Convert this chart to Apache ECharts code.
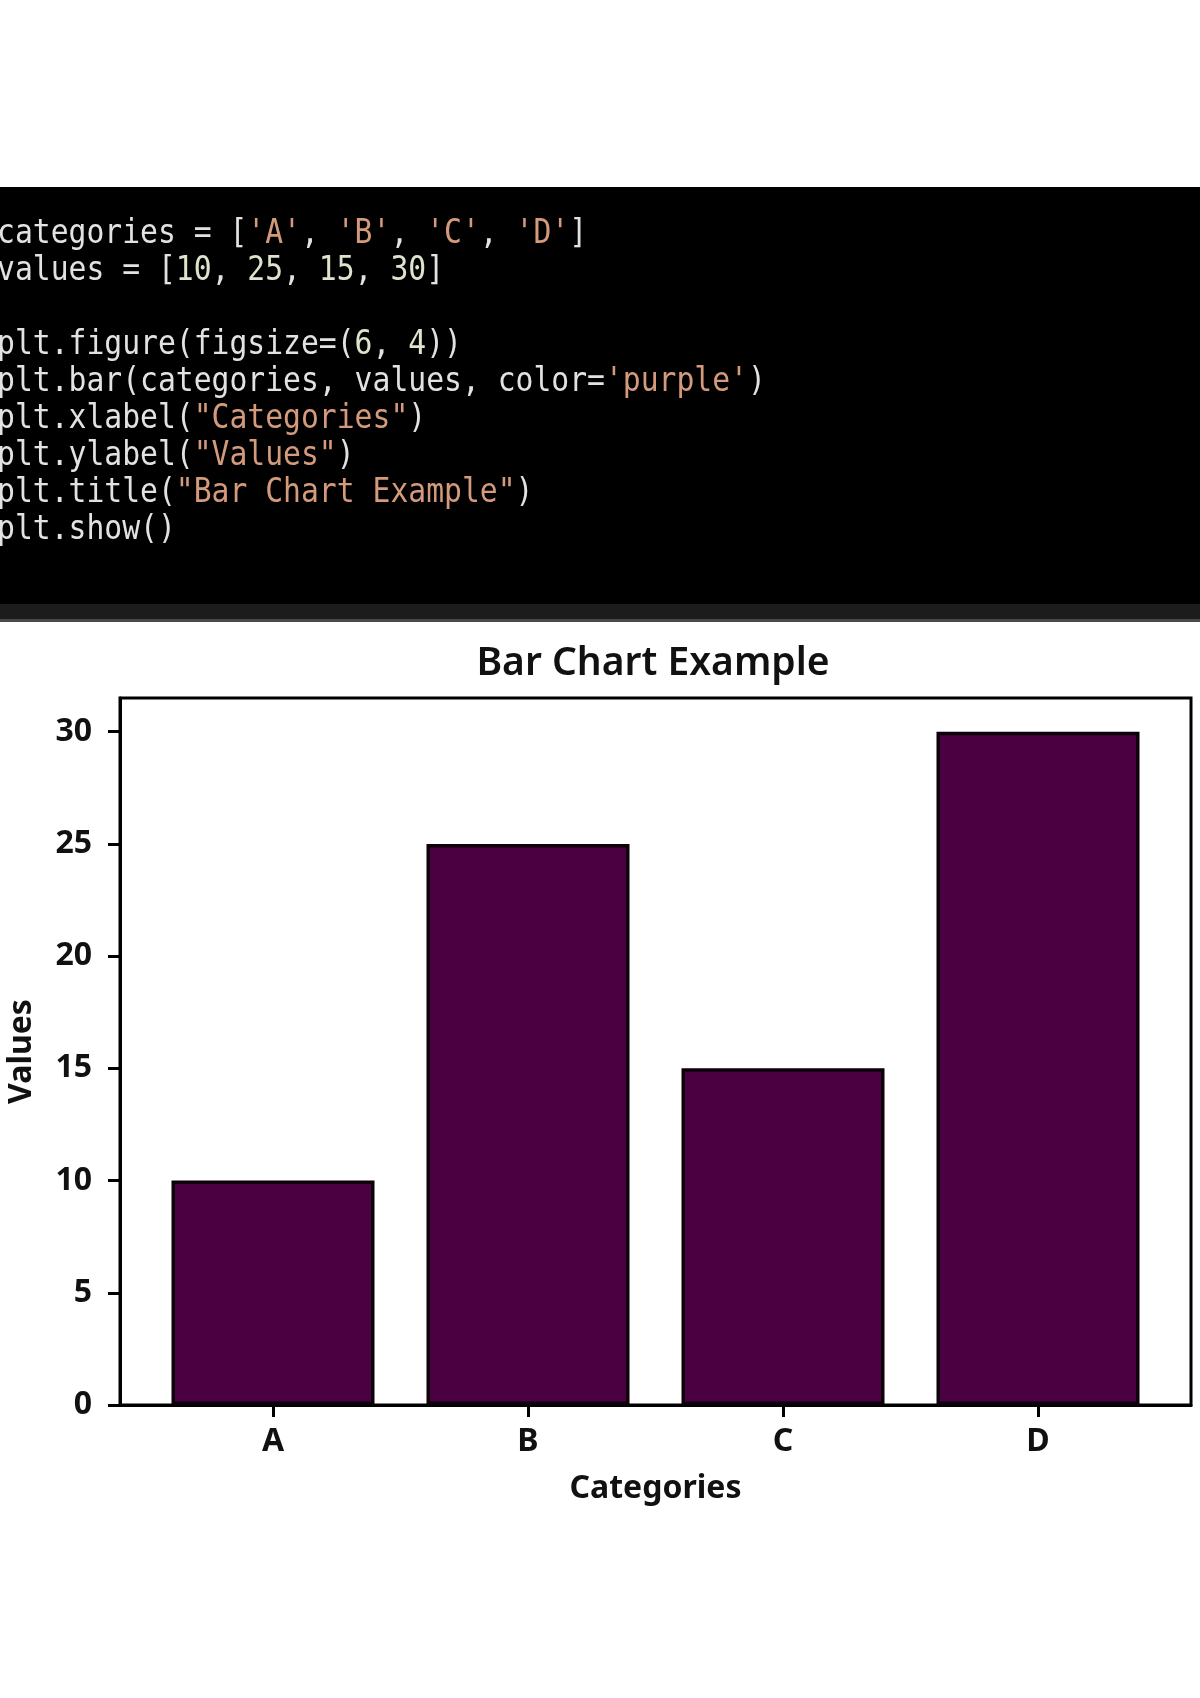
<!DOCTYPE html>
<html>
<head>
<meta charset="utf-8">
<script src="https://cdn.jsdelivr.net/npm/echarts@6/dist/echarts.min.js"></script>
<style>
  html, body { margin: 0; padding: 0; background: #fff; }
  #chart { width: 1200px; height: 1698px; }
</style>
</head>
<body>
<div id="chart"></div>
<script>
  const categories = ['A', 'B', 'C', 'D']
  const values = [10, 25, 15, 30]
  const xTicks = [0, 1, 2, 3]
  const yTicks = [0, 5, 10, 15, 20, 25, 30]
  const codeLines = [
    "categories = ['A', 'B', 'C', 'D']",
    'values = [10, 25, 15, 30]',
    '',
    'plt.figure(figsize=(6, 4))',
    "plt.bar(categories, values, color='purple')",
    'plt.xlabel("Categories")',
    'plt.ylabel("Values")',
    'plt.title("Bar Chart Example")',
    'plt.show()'
  ]

  const mono = 'DejaVu Sans Mono'
  const sans = 'Noto Sans'

  // turn a code line into rich text: strings orange, numbers pale green
  function colorize(line) {
    return line.split(/('[^']*'|"[^"]*")/).map(function (part) {
      if (!part) return ''
      if (part[0] === "'" || part[0] === '"') return '{s|' + part + '}'
      return part.replace(/\b\d+\b/g, function (n) { return '{n|' + n + '}' })
    }).join('')
  }

  const codeText = codeLines.map(function (line, i) {
    return {
      type: 'text',
      x: -3,
      y: 234 + i * 37,
      scaleX: 0.9,
      z: 5,
      style: {
        text: colorize(line),
        fill: '#e2e2e2',
        fontFamily: mono,
        fontSize: 33,
        verticalAlign: 'middle',
        rich: {
          s: { fill: '#d49a7c', fontFamily: mono, fontSize: 33 },
          n: { fill: '#dce4cc', fontFamily: mono, fontSize: 33 }
        }
      }
    }
  })

  const chart = echarts.init(document.getElementById('chart'))
  chart.setOption({
    animation: false,
    backgroundColor: '#fff',
    title: {
      text: 'Bar Chart Example',
      left: 648,
      top: 639,
      textAlign: 'center',
      textStyle: { fontFamily: sans, fontSize: 39, fontWeight: 600, color: '#111' }
    },
    grid: {
      left: 120,
      right: 9,
      top: 698,
      bottom: 293,
      show: true,
      borderColor: '#000',
      borderWidth: 3,
      outerBoundsMode: 'none'
    },
    xAxis: {
      type: 'value',
      min: -0.6,
      max: 3.6,
      name: 'Categories',
      nameLocation: 'middle',
      nameGap: 68,
      nameTextStyle: { fontFamily: sans, fontSize: 32, fontWeight: 'bold', color: '#111' },
      splitLine: { show: false },
      axisLine: { onZero: false, lineStyle: { color: '#000', width: 3 } },
      axisTick: { customValues: xTicks, length: 12, lineStyle: { color: '#000', width: 3 } },
      axisLabel: {
        customValues: xTicks,
        formatter: function (v) { return categories[v] },
        margin: 21,
        fontFamily: sans,
        fontSize: 32,
        fontWeight: 'bold',
        color: '#111'
      }
    },
    yAxis: {
      type: 'value',
      min: 0,
      max: 31.5,
      name: 'Values',
      nameLocation: 'middle',
      nameGap: 82,
      nameTextStyle: { fontFamily: sans, fontSize: 32, fontWeight: 'bold', color: '#111' },
      splitLine: { show: false },
      axisLine: { show: true, onZero: false, lineStyle: { color: '#000', width: 3 } },
      axisTick: { show: true, customValues: yTicks, length: 12, lineStyle: { color: '#000', width: 3 } },
      axisLabel: {
        customValues: yTicks,
        margin: 28,
        fontFamily: sans,
        fontSize: 32,
        fontWeight: 'bold',
        color: '#111'
      }
    },
    series: [
      {
        type: 'bar',
        data: values.map(function (v, i) { return [i, v] }),
        barWidth: 203,
        itemStyle: { color: '#4b0041', borderColor: '#0d000b', borderWidth: 3.5 }
      }
    ],
    graphic: [
      // code screenshot panel above the chart
      { type: 'rect', shape: { x: 0, y: 187, width: 1200, height: 420 }, style: { fill: '#000' }, z: 1 },
      { type: 'rect', shape: { x: 0, y: 604, width: 1200, height: 16 }, style: { fill: '#1c1c1c' }, z: 1 },
      { type: 'rect', shape: { x: 0, y: 619, width: 1200, height: 3 }, style: { fill: '#4a4a4a' }, z: 1 }
    ].concat(codeText)
  })
</script>
</body>
</html>
